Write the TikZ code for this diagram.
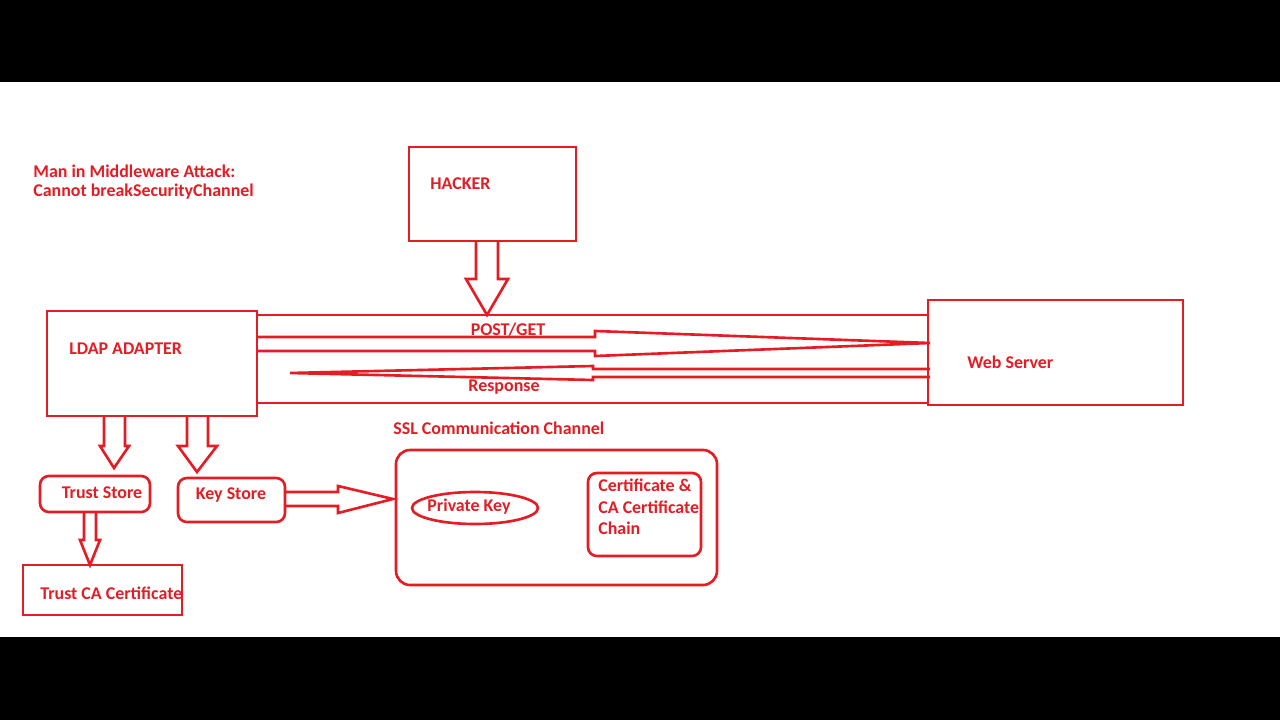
\documentclass[tikz,border=0pt]{standalone}
\usepackage{fontspec}
\setmainfont{Carlito}
\definecolor{rd}{RGB}{228,28,36}
\begin{document}
\begin{tikzpicture}[x=0.02cm,y=-0.02cm,
  ln/.style={draw=rd,line width=1.5pt},
  lbl/.style={text=rd,font=\bfseries\fontsize{10.2}{12}\selectfont,inner sep=0,align=left},
  box/.style={ln,inner sep=0},
  rbox/.style={ln,rounded corners=5pt,inner sep=0}]
\useasboundingbox (0,0) rectangle (1280,720);
\fill[black] (0,0) rectangle (1280,82);
\fill[black] (0,637) rectangle (1280,720);
% title
\node[lbl,anchor=west] (t1) at (33,171) {Man in Middleware Attack:};
\node[lbl,anchor=west] (t2) at (33,192) {Cannot breakSecurityChannel};
% boxes
\draw[box] (409,147) rectangle (576,241);
\node[lbl,anchor=west] (hacker) at (430,184) {HACKER};
\draw[box] (47,311) rectangle (257,416);
\node[lbl,anchor=west] (ldap) at (69,349) {LDAP ADAPTER};
\draw[box] (928,300) rectangle (1183,405);
\node[lbl,anchor=west] (web) at (967,362) {Web Server};
% channel
\draw[ln] (257,315) -- (928,315);
\draw[ln] (257,403) -- (928,403);
% POST/GET arrow
\draw[ln,line join=miter] (257,337) -- (595,337) -- (595,331) -- (930,343) -- (595,356) -- (595,351) -- (257,351);
% Response arrow
\draw[ln,line join=miter] (930,369) -- (593,369) -- (593,366) -- (290,373) -- (593,380) -- (593,377) -- (930,377);
\node[lbl] (pg) at (508,330) {POST/GET};
\node[lbl] (resp) at (504,387) {Response};
% hacker arrow
\draw[ln,line join=miter] (476,241) -- (476,279) -- (466,279) -- (487,315) -- (508,279) -- (498,279) -- (498,241);
% LDAP down arrows
\draw[ln,line join=miter] (104,416) -- (104,446) -- (100,446) -- (114,468) -- (129,446) -- (125,446) -- (125,416);
\draw[ln,line join=miter] (187,416) -- (187,446) -- (178,446) -- (197,472) -- (217,446) -- (208,446) -- (208,416);
% stores
\draw[rbox] (40,476) rectangle (150,512);
\node[lbl] (tst) at (102,493) {Trust Store};
\draw[rbox] (178,478) rectangle (285,522);
\node[lbl] (kst) at (231,495) {Key Store};
% trust store down arrow
\draw[ln,line join=miter] (84,512) -- (84,540) -- (80,540) -- (90,565) -- (100,540) -- (96,540) -- (96,512);
\draw[box] (23,565) rectangle (182,615);
\node[lbl,anchor=west] (tca) at (40,593) {Trust CA Certificate};
% key store right arrow
\draw[ln,line join=miter] (285,492) -- (338,492) -- (338,486) -- (393,499) -- (338,513) -- (338,506) -- (285,506);
% SSL
\node[lbl,anchor=west] (ssl) at (393,428) {SSL Communication Channel};
\draw[rbox,rounded corners=8pt] (396,450) rectangle (717,585);
\draw[ln] (475,508) ellipse [x radius=63,y radius=16];
\node[lbl] (pk) at (469,507) {Private Key};
\draw[rbox] (588,473) rectangle (701,556);
\node[lbl,anchor=north west] (cert) at (598,479) {Certificate \&\\CA Certificate\\Chain};
\end{tikzpicture}
\end{document}
